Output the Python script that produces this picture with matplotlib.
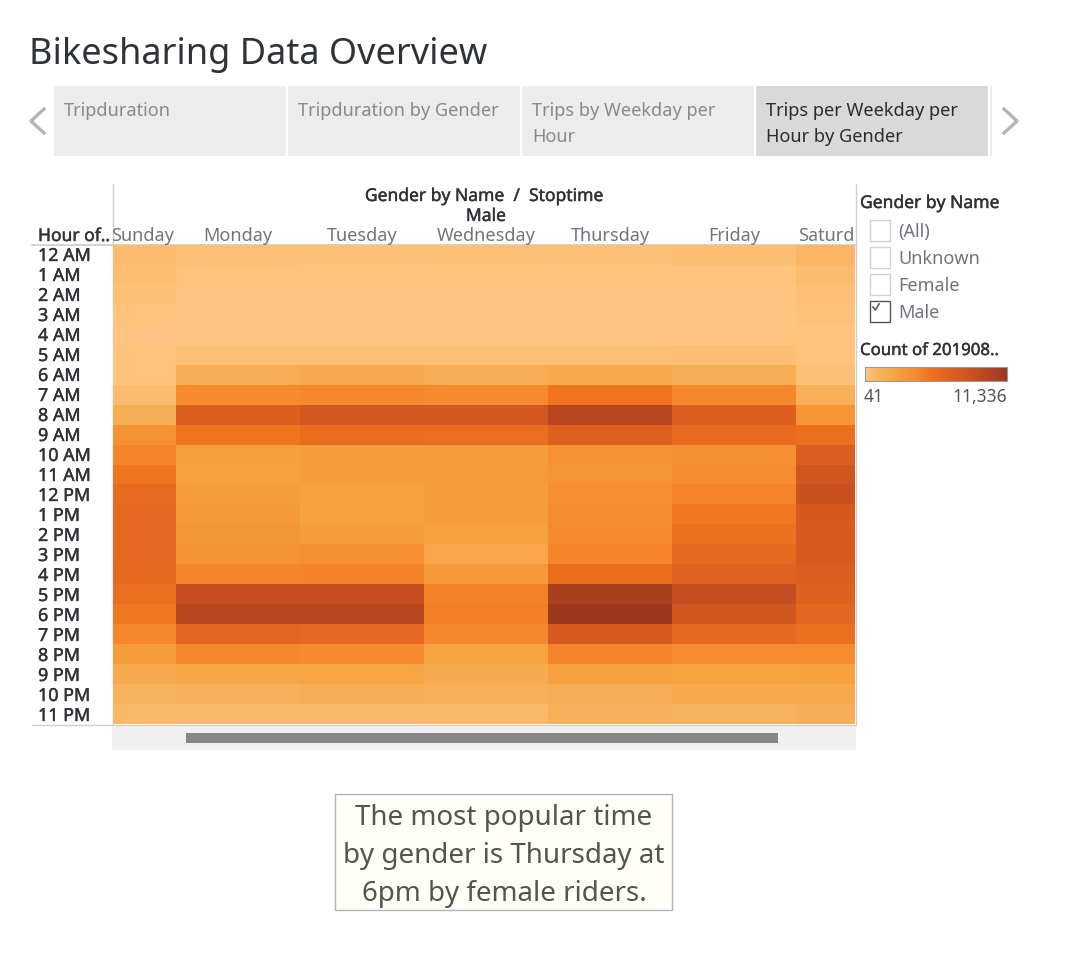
import matplotlib
matplotlib.use('Agg')
import matplotlib.pyplot as plt
import matplotlib.patheffects as pe
from matplotlib.colors import LinearSegmentedColormap
from matplotlib.patches import Rectangle
import numpy as np

plt.rcParams['font.family'] = ['Noto Sans', 'DejaVu Sans']

days = ['Sunday', 'Monday', 'Tuesday', 'Wednesday', 'Thursday', 'Friday', 'Saturd']
hours = ['12 AM', '1 AM', '2 AM', '3 AM', '4 AM', '5 AM', '6 AM', '7 AM', '8 AM', '9 AM', '10 AM', '11 AM',
         '12 PM', '1 PM', '2 PM', '3 PM', '4 PM', '5 PM', '6 PM', '7 PM', '8 PM', '9 PM', '10 PM', '11 PM']
# one row per hour, sunday to saturday
counts = [
    [606, 436, 380, 380, 380, 493, 945],
    [493, 154, 154, 154, 154, 154, 606],
    [380, 98, 98, 98, 98, 98, 436],
    [154, 41, 41, 41, 41, 41, 267],
    [98, 41, 41, 41, 41, 41, 154],
    [154, 380, 380, 380, 380, 493, 154],
    [210, 1623, 1849, 1623, 1962, 1510, 380],
    [606, 4109, 4222, 4109, 5239, 4222, 1397],
    [1510, 7047, 7838, 7725, 9646, 7160, 3431],
    [3544, 5239, 5804, 5691, 6934, 6030, 5578],
    [4335, 2753, 2866, 2866, 3657, 3770, 7160],
    [5239, 2640, 2866, 2979, 3431, 3883, 8064],
    [6030, 2866, 2527, 2866, 3770, 4335, 8629],
    [6256, 3092, 2527, 2979, 3996, 5013, 7612],
    [6256, 3318, 2866, 2640, 4109, 5465, 7499],
    [6256, 3544, 3770, 2075, 4335, 6143, 7499],
    [6143, 4335, 4448, 3092, 5804, 6708, 7160],
    [5691, 8855, 8855, 4561, 10437, 8900, 6821],
    [5013, 9646, 9646, 4674, 11336, 8064, 6369],
    [4222, 6482, 6256, 4222, 7499, 6143, 5578],
    [2979, 4222, 4109, 2414, 4335, 3883, 3883],
    [1849, 2188, 2301, 1736, 2640, 2414, 2527],
    [1171, 1284, 1623, 1397, 1623, 1962, 1962],
    [832, 719, 719, 832, 1284, 1171, 1510],
]
vmin, vmax = 41, 11336
tabs = ['Tripduration', 'Tripduration by Gender', 'Trips by Weekday per\nHour', 'Trips per Weekday per\nHour by Gender']
filter_items = ['(All)', 'Unknown', 'Female', 'Male']
legend_ticks = ['41', '11,336']

cmap = LinearSegmentedColormap.from_list('orange_gold', [
    (0.0, '#ffc581'), (0.10, '#f8b25c'), (0.22, '#f6a23f'), (0.36, '#f58a2e'), (0.46, '#f0731f'),
    (0.58, '#e2631f'), (0.72, '#cf5520'), (0.85, '#b8471f'), (1.0, '#9c381e')])

W, H = 1089, 960
fig = plt.figure(figsize=(W / 100, H / 100), dpi=100, facecolor='white')


def px_axes(x0, y0, x1, y1):
    return fig.add_axes([x0 / W, 1 - y1 / H, (x1 - x0) / W, (y1 - y0) / H])


# page furniture is laid out in pixels
ui = px_axes(0, 0, W, H)
ui.set_xlim(0, W)
ui.set_ylim(H, 0)
ui.axis('off')

DARK = '#2f3338'
GREY = '#6f7480'
# no semibold file is installed, so thicken the regular weight a little
heavy = [pe.withStroke(linewidth=0.3, foreground=DARK)]

ui.text(29, 55, 'Bikesharing Data Overview', fontsize=26, color=DARK, va='center')

tab_left = [54, 288, 522, 756]
for i, (x, label) in enumerate(zip(tab_left, tabs)):
    active = i == 3
    ui.add_patch(Rectangle((x, 86), 232, 70, fc='#d9d9d9' if active else '#ececec', ec='none'))
    ui.text(x + 10, 111 if '\n' not in label else 124, label, fontsize=13.1, linespacing=1.52,
            color='#2b2b33' if active else '#8a8a86', va='center')
ui.add_patch(Rectangle((990, 86), 2, 70, fc='#ececec', ec='none'))
ui.plot([44, 31, 44], [109, 121, 133], color='#b4b4b4', lw=2.4)
ui.plot([1004, 1017, 1004], [109, 121, 133], color='#b4b4b4', lw=2.4)

# heatmap, columns clipped at both ends because the view is scrolled
ax = px_axes(113, 245, 855, 724)
ax.pcolormesh(np.arange(8), np.arange(25), np.array(counts), cmap=cmap, vmin=vmin, vmax=vmax)
ax.set_xlim(1 - 63 / 124, 6 + 59 / 124)
ax.set_ylim(24, 0)
ax.axis('off')

# header lines
ui.plot([113, 113], [184, 724], color='#cfcfcf', lw=1)
ui.plot([856, 856], [184, 724], color='#cfcfcf', lw=1)
ui.plot([32, 856], [244.5, 244.5], color='#c8ccd0', lw=1.2)
ui.plot([32, 856], [724.5, 724.5], color='#cfcfcf', lw=1)

ui.text(484, 196, 'Gender by Name  /  Stoptime', fontsize=12.6, color=DARK, ha='center', va='center', path_effects=heavy)
ui.text(486, 216, 'Male', fontsize=12.6, color=DARK, ha='center', va='center', path_effects=heavy)
ui.text(38, 236, 'Hour of..', fontsize=12.6, color=DARK, va='center', path_effects=heavy)
day_x = [143, 238, 362, 486, 610, 734, 826]
for x, d in zip(day_x, days):
    ui.text(x, 236, d, fontsize=13, color=GREY, ha='center', va='center', zorder=3)
for i, h in enumerate(hours):
    ui.text(38, 256 + i * 20, h, fontsize=12.9, color=DARK, va='center', path_effects=heavy)

# scrollbar
ui.add_patch(Rectangle((112, 726), 744, 24, fc='#f0f0f0', ec='none'))
ui.add_patch(Rectangle((186, 733), 592, 10, fc='#868686', ec='none'))

# filter
ui.text(860, 203, 'Gender by Name', fontsize=12.6, color=DARK, va='center', path_effects=heavy)
for i, item in enumerate(filter_items):
    y = 231 + i * 27
    checked = item == 'Male'
    ui.add_patch(Rectangle((869.5, y - 11), 20, 21, fc='white', ec='#555555' if checked else '#d0d0d0', lw=1))
    ui.text(898, y + 1, item, fontsize=13, color=GREY, va='center')
    if checked:
        ui.plot([873, 875.5, 879], [y - 5, y - 2, y - 8], color='#666666', lw=1.3)

# colour legend
ui.text(860, 351, 'Count of 201908..', fontsize=12.1, color=DARK, va='center', path_effects=heavy)
cax = px_axes(865, 367, 1007, 381)
cax.imshow(np.linspace(vmin, vmax, 256)[None, :], cmap=cmap, vmin=vmin, vmax=vmax, aspect='auto')
cax.set_xticks([])
cax.set_yticks([])
for s in cax.spines.values():
    s.set_color('#999999')
ui.text(864, 397, legend_ticks[0], fontsize=12.5, color='#555555', va='center')
ui.text(1007, 397, legend_ticks[1], fontsize=12.5, color='#555555', ha='right', va='center')

# note box
ui.add_patch(Rectangle((335, 794), 337, 116, fc='#fffff8', ec='#b5b5b5', lw=1))
ui.text(504, 856, 'The most popular time\nby gender is Thursday at\n6pm by female riders.', fontsize=20,
        color='#55554f', ha='center', va='center', linespacing=1.47)

fig.savefig('out.png', dpi=100)
